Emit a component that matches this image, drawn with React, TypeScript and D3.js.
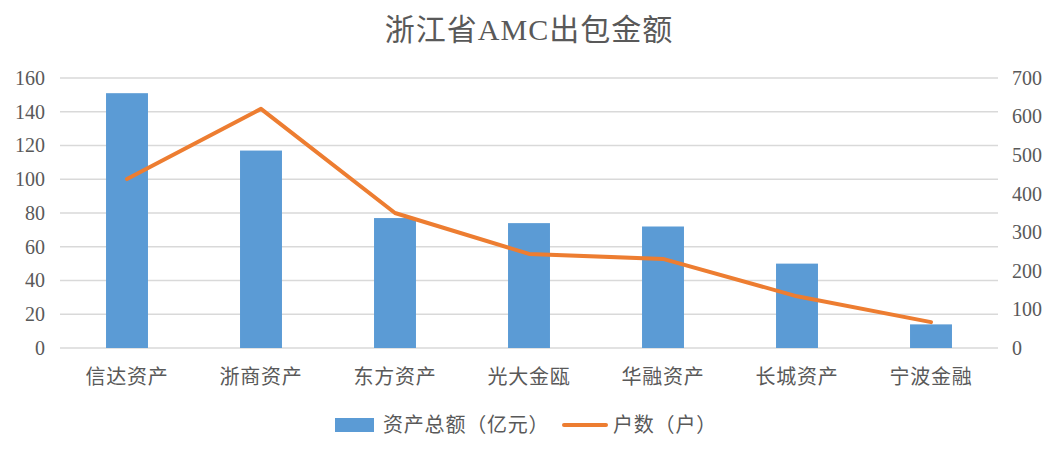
import {useEffect, useRef} from "react";
import * as d3 from "d3";

const categories = ["信达资产", "浙商资产", "东方资产", "光大金瓯", "华融资产", "长城资产", "宁波金融"];
const assetTotals = [151, 117, 77, 74, 72, 50, 14]; // 资产总额（亿元）
const households = [438, 620, 350, 244, 231, 134, 67]; // 户数（户）
const leftTicks = [0, 20, 40, 60, 80, 100, 120, 140, 160];
const rightTicks = [0, 100, 200, 300, 400, 500, 600, 700];

const title = "浙江省AMC出包金额";
const barLabel = "资产总额（亿元）";
const lineLabel = "户数（户）";

export default function App() {
    const chartRef = useRef<SVGSVGElement>(null);

    useEffect(() => {
        document.body.style.margin = "0";
        if (!chartRef.current) return;

        const width = 1058;
        const height = 451;
        const marginLeft = 60;
        const marginRight = 60;
        const marginTop = 78;
        const marginBottom = 103;
        const fontFamily = "'Liberation Serif', 'Noto Sans CJK SC', serif";
        const textColor = "#595959";

        const svg = d3.select(chartRef.current)
            .attr("viewBox", [0, 0, width, height])
            .attr("width", width)
            .attr("height", height);
        svg.selectAll("*").remove();

        const x = d3.scaleBand()
            .domain(categories)
            .range([marginLeft, width - marginRight])
            .padding(0);

        const yLeft = d3.scaleLinear()
            .domain([0, 160])
            .range([height - marginBottom, marginTop]);

        const yRight = d3.scaleLinear()
            .domain([0, 700])
            .range([height - marginBottom, marginTop]);

        // title
        svg.append("text")
            .attr("x", width / 2)
            .attr("y", 40)
            .attr("text-anchor", "middle")
            .attr("font-family", fontFamily)
            .attr("font-size", 30)
            .attr("letter-spacing", 1)
            .attr("fill", textColor)
            .text(title);

        // gridlines
        svg.append("g")
            .selectAll("line")
            .data(leftTicks)
            .join("line")
            .attr("x1", marginLeft)
            .attr("x2", width - marginRight)
            .attr("y1", d => yLeft(d))
            .attr("y2", d => yLeft(d))
            .attr("stroke", "#d9d9d9")
            .attr("stroke-width", 1.5);

        // left axis
        const leftAxis = svg.append("g")
            .attr("transform", `translate(${marginLeft - 15},0)`)
            .call(d3.axisLeft(yLeft).tickValues(leftTicks).tickSize(0).tickPadding(0));
        leftAxis.select(".domain").remove();

        // right axis
        const rightAxis = svg.append("g")
            .attr("transform", `translate(${width - marginRight + 14},0)`)
            .call(d3.axisRight(yRight).tickValues(rightTicks).tickSize(0).tickPadding(0));
        rightAxis.select(".domain").remove();

        svg.selectAll(".tick text")
            .attr("font-family", fontFamily)
            .attr("font-size", 20)
            .attr("fill", textColor);

        // bars
        const barWidth = x.bandwidth() * 0.313;
        svg.append("g")
            .selectAll("rect")
            .data(assetTotals)
            .join("rect")
            .attr("x", (_, i) => x(categories[i])! + x.bandwidth() / 2 - barWidth / 2)
            .attr("y", d => yLeft(d))
            .attr("width", barWidth)
            .attr("height", d => yLeft(0) - yLeft(d))
            .attr("fill", "#5b9bd5");

        // line
        const line = d3.line<number>()
            .x((_, i) => x(categories[i])! + x.bandwidth() / 2)
            .y(d => yRight(d));

        svg.append("path")
            .datum(households)
            .attr("d", line)
            .attr("fill", "none")
            .attr("stroke", "#ed7d31")
            .attr("stroke-width", 4)
            .attr("stroke-linejoin", "round")
            .attr("stroke-linecap", "round");

        // category labels
        svg.append("g")
            .selectAll("text")
            .data(categories)
            .join("text")
            .attr("x", d => x(d)! + x.bandwidth() / 2)
            .attr("y", height - marginBottom + 36)
            .attr("text-anchor", "middle")
            .attr("font-family", fontFamily)
            .attr("font-size", 20)
            .attr("letter-spacing", 0.8)
            .attr("fill", textColor)
            .text(d => d);

        // legend
        const legend = svg.append("g")
            .attr("font-family", fontFamily)
            .attr("font-size", 20)
            .attr("letter-spacing", 0.8)
            .attr("fill", textColor);
        legend.append("rect")
            .attr("x", 335)
            .attr("y", 418)
            .attr("width", 39)
            .attr("height", 14)
            .attr("fill", "#5b9bd5");
        legend.append("text")
            .attr("x", 383)
            .attr("y", 432)
            .text(barLabel);
        legend.append("line")
            .attr("x1", 564)
            .attr("x2", 606)
            .attr("y1", 425)
            .attr("y2", 425)
            .attr("stroke", "#ed7d31")
            .attr("stroke-width", 4)
            .attr("stroke-linecap", "round");
        legend.append("text")
            .attr("x", 613)
            .attr("y", 432)
            .text(lineLabel);
    }, []);

    return <svg ref={chartRef}/>;
}
